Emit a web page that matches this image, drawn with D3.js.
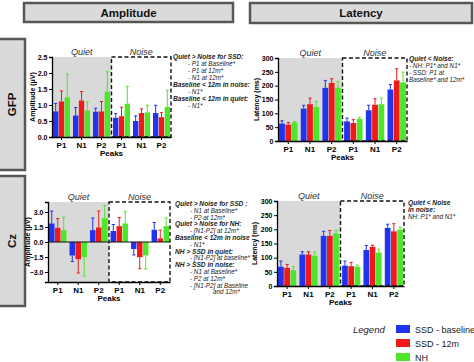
<!DOCTYPE html>
<html>
<head>
<meta charset="utf-8">
<script src="https://cdn.jsdelivr.net/npm/d3@7"></script>
<style>
  body { margin: 0; background: #fff; }
  text { font-family: "Liberation Sans", Arial, sans-serif; }
</style>
</head>
<body>
<svg id="fig" width="474" height="362"></svg>
<script>
// categories and series
const peaks = ["P1", "N1", "P2", "P1", "N1", "P2"];
const seriesNames = ["SSD - baseline", "SSD - 12m", "NH"];
const seriesColors = ["#2233ee", "#ee1a1a", "#4ee62a"];

// GFP amplitude (uV): rows = baseline, 12m, NH ; cols = quiet P1 N1 P2, noise P1 N1 P2
const gfpAmpMean = [
  [0.80, 0.67, 0.79, 0.60, 0.50, 0.75],
  [1.11, 1.14, 0.80, 0.65, 0.75, 0.62],
  [1.24, 0.83, 1.42, 1.04, 0.77, 0.94]
];
const gfpAmpErr = [
  [1.05, 0.92, 0.90, 0.73, 0.66, 0.99],
  [1.44, 1.42, 1.11, 0.93, 0.88, 0.76],
  [1.97, 1.10, 2.04, 1.58, 0.99, 1.46]
];

// GFP latency (ms)
const gfpLatMean = [
  [63, 117, 192, 71, 111, 186],
  [59, 133, 210, 65, 131, 219],
  [67, 123, 193, 80, 133, 212]
];
const gfpLatErr = [
  [73, 129, 219, 83, 129, 204],
  [67, 155, 225, 77, 153, 261],
  [70, 143, 215, 86, 155, 249]
];

// Cz amplitude (uV)
const czAmpMean = [
  [1.85, -1.35, 1.19, 1.10, -0.70, 1.22],
  [1.42, -1.72, 1.45, 1.58, -1.52, 0.36],
  [1.19, -1.50, 2.40, 1.85, -1.35, 1.58]
];
const czAmpErr = [
  [3.10, -1.95, 2.40, 1.75, -1.30, 1.95],
  [2.34, -3.10, 3.10, 2.44, -2.67, 1.19],
  [2.50, -3.40, 3.66, 3.07, -2.70, 2.40]
];

// Cz latency (ms)
const czLatMean = [
  [68, 111, 177, 72, 127, 205],
  [64, 111, 177, 70, 138, 193],
  [56, 107, 186, 68, 118, 199]
];
const czLatErr = [
  [88, 121, 193, 88, 143, 218],
  [76, 121, 196, 83, 144, 220],
  [68, 120, 197, 74, 130, 208]
];

// tick values
const ampTicksGfp = [0, 0.5, 1.0, 1.5, 2.0, 2.5];
const ampTicksCz = [-3.0, -1.5, 0, 1.5, 3.0];
const latTicks = [0, 50, 100, 150, 200, 250, 300];

// annotation texts (1 = bold heading, 0 = indented, 2 = continuation, 3 = plain)
const notesGfpAmp = [
  ["Quiet > Noise for SSD:", 1], ["- P1 at Baseline*", 0], ["- P1 at 12m*", 0], ["- N1 at 12m*", 0],
  ["Baseline < 12m in noise:", 1], ["- N1*", 0], ["Baseline < 12m in quiet:", 1], ["- N1*", 0]
];
const notesCzAmp = [
  ["Quiet > Noise for SSD :", 1], ["- N1 at Baseline*", 0], ["- P2 at 12m*", 0],
  ["Quiet > Noise for NH:", 1], ["- [N1-P2] at 12m*", 0],
  ["Baseline < 12m in noise :", 1], ["- N1*", 0],
  ["NH > SSD in quiet:", 1], ["- [N1-P2] at baseline*", 0],
  ["NH > SSD in noise:", 1], ["- N1 at Baseline*", 0], ["- P2 at 12m*", 0],
  ["- [N1-P2] at Baseline", 0], ["and 12m*", 2]
];
const notesGfpLat = [
  ["Quiet < Noise:", 1], ["- NH: P1* and N1*", 3], ["- SSD: P1 at", 3], ["Baseline* and 12m*", 3]
];
const notesCzLat = [
  ["Quiet < Noise", 1], ["in noise:", 1], ["NH: P1* and N1*", 3]
];

const svg = d3.select("#fig");

// header and side boxes
function box(x, y, w, h, label, rotate) {
  svg.append("rect")
    .attr("x", x).attr("y", y).attr("width", w).attr("height", h)
    .attr("fill", "#dadada").attr("stroke", "#575757").attr("stroke-width", 2.5);
  let cx = x + w / 2, cy = y + h / 2;
  svg.append("text")
    .attr("transform", rotate ? `translate(${cx + 4},${cy}) rotate(-90)` : `translate(${cx},${cy + 4})`)
    .attr("text-anchor", "middle")
    .attr("font-size", 11.5).attr("font-weight", "bold").attr("fill", "#111")
    .text(label);
}
box(24, 3, 209, 19, "Amplitude", false);
box(250, 3, 222, 20, "Latency", false);
box(-2, 39, 27, 131, "GFP", true);
box(-2, 176, 27, 130, "Cz", true);

function drawPanel(cfg) {
  let g = svg.append("g");

  let x = d3.scaleBand().domain(d3.range(peaks.length))
    .range([cfg.x0, cfg.x1]).paddingInner(0.15).paddingOuter(0.05);
  let xs = d3.scaleBand().domain(d3.range(seriesNames.length))
    .range([0, x.bandwidth()]).paddingInner(0.08);
  let y = d3.scaleLinear().domain(cfg.domain).range([cfg.yBot, cfg.yTop]);

  let divX = (x(2) + x.bandwidth() + x(3)) / 2;

  // quiet background
  g.append("rect")
    .attr("x", cfg.x0).attr("y", cfg.yTop)
    .attr("width", divX - cfg.x0).attr("height", cfg.yBot - cfg.yTop)
    .attr("fill", "#d9d9d9");

  // bars
  seriesNames.forEach((s, si) => {
    let rows = cfg.mean[si].map((v, i) => ({i: i, v: v, e: cfg.err[si][i]}));
    g.selectAll(null).data(rows).enter().append("rect")
      .attr("x", d => x(d.i) + xs(si))
      .attr("y", d => y(Math.max(0, d.v)))
      .attr("width", xs.bandwidth())
      .attr("height", d => Math.abs(y(d.v) - y(0)))
      .attr("fill", seriesColors[si]);

    let cx = d => x(d.i) + xs(si) + xs.bandwidth() / 2;
    g.selectAll(null).data(rows).enter().append("line")
      .attr("x1", cx).attr("x2", cx)
      .attr("y1", d => y(d.v)).attr("y2", d => y(d.e))
      .attr("stroke", seriesColors[si]).attr("stroke-width", 1);
    g.selectAll(null).data(rows).enter().append("line")
      .attr("x1", d => cx(d) - 1.6).attr("x2", d => cx(d) + 1.6)
      .attr("y1", d => y(d.e)).attr("y2", d => y(d.e))
      .attr("stroke", seriesColors[si]).attr("stroke-width", 1);
  });

  // noise dashed box
  g.append("rect")
    .attr("x", divX).attr("y", cfg.yTop)
    .attr("width", cfg.x1 - divX).attr("height", cfg.yBot - cfg.yTop)
    .attr("fill", "none").attr("stroke", "#111")
    .attr("stroke-width", 1.4).attr("stroke-dasharray", "4,2.5");

  // zero line (for Cz amplitude)
  if (cfg.domain[0] < 0) {
    g.append("line")
      .attr("x1", cfg.x0).attr("x2", cfg.x1)
      .attr("y1", y(0)).attr("y2", y(0))
      .attr("stroke", "#111").attr("stroke-width", 1.2);
  }

  // axes
  let ya = g.append("g")
    .attr("transform", `translate(${cfg.x0},0)`)
    .call(d3.axisLeft(y).tickValues(cfg.ticks).tickFormat(cfg.fmt).tickSize(3).tickPadding(1.5));
  ya.selectAll("text").attr("font-size", 7).attr("font-weight", "bold").attr("font-family", null);
  ya.select(".domain").attr("stroke-width", 1.3);

  let xa = g.append("g")
    .attr("transform", `translate(0,${cfg.yBot})`)
    .call(d3.axisBottom(x).tickFormat(i => peaks[i]).tickSize(3).tickSizeOuter(0).tickPadding(2));
  xa.selectAll("text").attr("font-size", 8).attr("font-weight", "bold").attr("font-family", null);
  xa.select(".domain").attr("stroke-width", 1.3);

  // titles
  g.append("text")
    .attr("x", (cfg.x0 + cfg.x1) / 2).attr("y", cfg.yBot + 19)
    .attr("text-anchor", "middle").attr("font-size", 8).attr("font-weight", "bold")
    .text("Peaks");
  g.append("text")
    .attr("transform", `translate(${cfg.ylabX},${(cfg.yTop + cfg.yBot) / 2}) rotate(-90)`)
    .attr("text-anchor", "middle").attr("font-size", 7).attr("font-weight", "bold")
    .text(cfg.ylabel);

  g.append("text")
    .attr("x", (cfg.x0 + divX) / 2).attr("y", cfg.yTop - 2)
    .attr("text-anchor", "middle").attr("font-size", 9).attr("font-style", "italic")
    .attr("fill", "#333").text("Quiet");
  g.append("text")
    .attr("x", (divX + cfg.x1) / 2).attr("y", cfg.yTop - 2)
    .attr("text-anchor", "middle").attr("font-size", 9).attr("font-style", "italic")
    .attr("fill", "#333").text("Noise");

  // annotations
  g.selectAll(null).data(cfg.notes).enter().append("text")
    .attr("x", d => d[1] === 0 ? cfg.noteX + 15 : d[1] === 2 ? cfg.noteX + 38 : cfg.noteX)
    .attr("y", (d, i) => cfg.noteY + i * cfg.noteStep)
    .attr("font-size", d => d[1] === 1 ? 6.6 : 6.3).attr("font-style", "italic")
    .attr("font-weight", d => d[1] === 1 ? "bold" : "normal")
    .attr("fill", "#222")
    .text(d => d[0]);
}

drawPanel({
  x0: 52, x1: 171, yTop: 57, yBot: 137, domain: [0, 2.5], ticks: ampTicksGfp,
  fmt: d3.format(".1f"), mean: gfpAmpMean, err: gfpAmpErr,
  ylabel: "Amplitude (\u03bcV)", ylabX: 35,
  notes: notesGfpAmp, noteX: 173, noteY: 59, noteStep: 7
});
drawPanel({
  x0: 278, x1: 407, yTop: 58, yBot: 141, domain: [0, 300], ticks: latTicks,
  fmt: d3.format("d"), mean: gfpLatMean, err: gfpLatErr,
  ylabel: "Latency (ms)", ylabX: 259,
  notes: notesGfpLat, noteX: 409, noteY: 61, noteStep: 7
});
drawPanel({
  x0: 48, x1: 170, yTop: 202, yBot: 282, domain: [-4, 4], ticks: ampTicksCz,
  fmt: d3.format(".1f"), mean: czAmpMean, err: czAmpErr,
  ylabel: "Amplitude (\u03bcV)", ylabX: 30,
  notes: notesCzAmp, noteX: 175, noteY: 206, noteStep: 6.8
});
drawPanel({
  x0: 277, x1: 404, yTop: 201, yBot: 286, domain: [0, 300], ticks: latTicks,
  fmt: d3.format("d"), mean: czLatMean, err: czLatErr,
  ylabel: "Latency (ms)", ylabX: 257,
  notes: notesCzLat, noteX: 408, noteY: 205, noteStep: 7
});

// legend
let lg = svg.append("g");
lg.append("text").attr("x", 353).attr("y", 333)
  .attr("font-size", 9.5).attr("font-style", "italic").attr("fill", "#222").text("Legend");
lg.selectAll(null).data(seriesNames).enter().append("rect")
  .attr("x", 396).attr("y", (d, i) => 325 + i * 14)
  .attr("width", 14).attr("height", 8)
  .attr("fill", (d, i) => seriesColors[i]);
lg.selectAll(null).data(seriesNames).enter().append("text")
  .attr("x", 415).attr("y", (d, i) => 333 + i * 14)
  .attr("font-size", 9).attr("fill", "#222")
  .text(d => d);
</script>
</body>
</html>
